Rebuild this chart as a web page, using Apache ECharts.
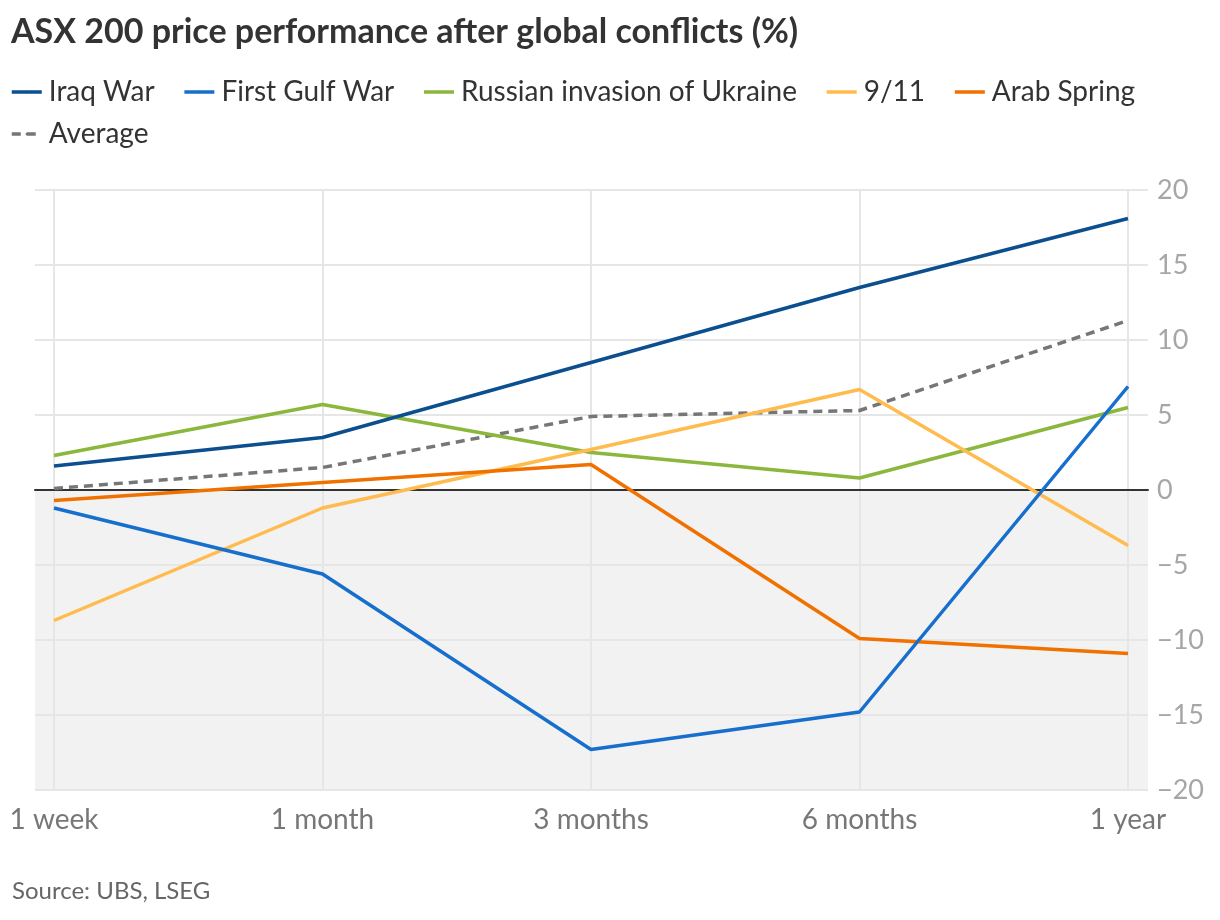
<!DOCTYPE html>
<html lang="en">
<head>
    <meta charset="UTF-8">
    <title>ASX 200 price performance after global conflicts</title>
    <style>
        body{
            margin: 0;
            background: #fff;
        }
        .dis{
            width: 1220px;
            height: 920px;
        }
    </style>
    <script src="https://cdn.jsdelivr.net/npm/echarts@6/dist/echarts.min.js"></script>
</head>
<body>
<div class="dis"></div>
</body>
<script>
    // data
    var periods = ["1 week", "1 month", "3 months", "6 months", "1 year"];
    var iraq_war = [1.6, 3.5, 8.5, 13.5, 18.1];
    var first_gulf_war = [-1.2, -5.6, -17.3, -14.8, 6.9];
    var russia_ukraine = [2.3, 5.7, 2.5, 0.8, 5.5];
    var sept_11 = [-8.7, -1.2, 2.7, 6.7, -3.7];
    var arab_spring = [-0.7, 0.5, 1.7, -9.9, -10.9];
    var average = [0.1, 1.5, 4.9, 5.3, 11.3];
    var y_ticks = [-20, -15, -10, -5, 0, 5, 10, 15, 20];

    var font = "Lato, 'Noto Sans', sans-serif";
    var dis = document.getElementsByClassName("dis")[0];
    var my_dis = echarts.init(dis);

    function line(name, data, color, dashed) {
        return {
            name: name,
            type: "line",
            xAxisIndex: 1,
            yAxisIndex: 1,
            data: data,
            symbol: "none",
            z: dashed ? 3 : 4,
            lineStyle: {
                color: color,
                width: 3.5,
                type: dashed ? [9, 6] : "solid"
            },
            itemStyle: {color: color}
        };
    }

    var option = {
        animation: false,
        textStyle: {fontFamily: font},
        title: [{
            text: "ASX 200 price performance after global conflicts (%)",
            left: 6,
            top: 10,
            textStyle: {fontFamily: font, fontSize: 34, fontWeight: "bold", color: "#333"}
        }, {
            text: "Source: UBS, LSEG",
            left: 7,
            top: 874,
            textStyle: {fontFamily: font, fontSize: 24, fontWeight: "normal", color: "#666"}
        }],
        legend: {
            left: 10,
            top: 74,
            width: 1195,
            padding: 0,
            itemWidth: 30,
            itemHeight: 3,
            itemGap: 6,
            lineStyle: {width: 3.5},
            textStyle: {fontFamily: font, fontSize: 28, color: "#333", lineHeight: 36, padding: [0, 22, 0, 2]},
            data: ["Iraq War", "First Gulf War", "Russian invasion of Ukraine", "9/11", "Arab Spring", "Average"]
        },
        grid: [
            {left: 35, right: 72, top: 190, bottom: 130},
            {left: 54, right: 92, top: 190, bottom: 130}
        ],
        xAxis: [{
            // background grid: only the zero line
            gridIndex: 0,
            type: "value",
            min: 0,
            max: 1,
            z: 1.5,
            axisLine: {show: true, onZero: true, lineStyle: {color: "#333", width: 2}},
            axisTick: {show: false},
            axisLabel: {show: false},
            splitLine: {show: false}
        }, {
            gridIndex: 1,
            type: "category",
            data: periods,
            boundaryGap: false,
            z: 1,
            axisLine: {show: false},
            axisTick: {show: false},
            axisLabel: {fontFamily: font, fontSize: 28, color: "#777", margin: 16},
            splitLine: {show: true, lineStyle: {color: "#e6e6e6", width: 2}}
        }],
        yAxis: [{
            gridIndex: 0,
            type: "value",
            position: "right",
            min: y_ticks[0],
            max: y_ticks[y_ticks.length - 1],
            interval: 5,
            z: 0,
            axisLine: {show: false},
            axisTick: {show: false},
            axisLabel: {
                fontFamily: font, fontSize: 27, color: "#a6a6a6", margin: 9,
                formatter: function (v) { return String(v).replace("-", "\u2212"); }
            },
            splitLine: {show: true, lineStyle: {color: "#e6e6e6", width: 2}},
            splitArea: {
                show: true,
                areaStyle: {color: ["#f2f2f2", "#f2f2f2", "#f2f2f2", "#f2f2f2", "#fff", "#fff", "#fff", "#fff"]}
            }
        }, {
            gridIndex: 1,
            type: "value",
            min: y_ticks[0],
            max: y_ticks[y_ticks.length - 1],
            interval: 5,
            show: false,
            splitLine: {show: false}
        }],
        series: [
            line("Average", average, "#767676", true),
            line("Russian invasion of Ukraine", russia_ukraine, "#8ab73c", false),
            line("9/11", sept_11, "#ffbb4d", false),
            line("Arab Spring", arab_spring, "#f07000", false),
            line("Iraq War", iraq_war, "#0b4f8f", false),
            line("First Gulf War", first_gulf_war, "#166ecd", false)
        ]
    };
    my_dis.setOption(option);
</script>
</html>
